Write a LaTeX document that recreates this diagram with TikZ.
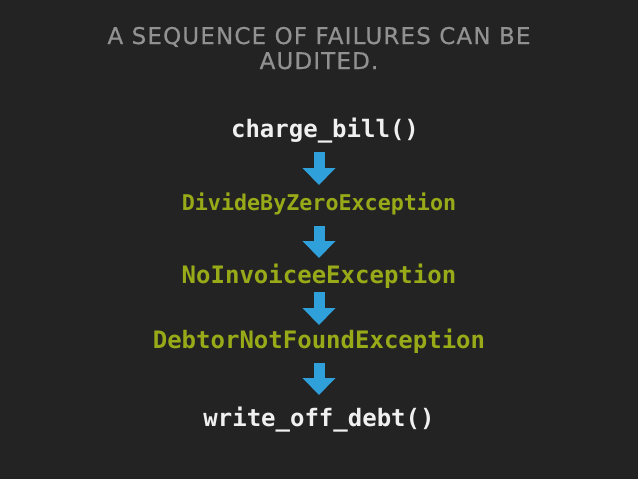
\documentclass[tikz,border=0pt]{standalone}
\usepackage{fontspec}
\newfontfamily\titlefont[LetterSpace=5,FakeBold=0.6]{DejaVu Sans}
\newfontfamily\codefont{DejaVu Sans Mono}
\usepackage{tikz}
\usetikzlibrary{arrows.meta,positioning}
\usepackage{xcolor}
\definecolor{slidebg}{RGB}{35,35,35}
\definecolor{titlegray}{RGB}{145,145,145}
\definecolor{excgreen}{RGB}{152,170,24}
\definecolor{flowblue}{RGB}{47,160,218}
\definecolor{callwhite}{RGB}{240,240,240}

\begin{document}
\begin{tikzpicture}[
      x=1pt, y=1pt,
      title/.style={font=\titlefont\fontsize{23}{25}\selectfont, text=titlegray,
                    align=center, inner sep=0pt, anchor=base},
      call/.style={font=\codefont\bfseries\fontsize{24}{28}\selectfont,
                   text=callwhite, inner sep=0pt, anchor=base},
      exc/.style={font=\codefont\bfseries\fontsize{24}{28}\selectfont,
                  text=excgreen, inner sep=0pt, anchor=base},
      flow/.style={draw=flowblue, line width=11pt,
                   -{Triangle[width=32pt, length=17pt]}}
    ]
    \fill[slidebg] (0,0) rectangle (638,-479);
    \useasboundingbox (0,0) rectangle (638,-479);

    \node[title] (heading) at (319,-69) {A SEQUENCE OF FAILURES CAN BE\\AUDITED.};

    \node[call] (bill)    at (325,-137) {charge\_bill()};
    \node[exc, font=\codefont\bfseries\fontsize{21.7}{26}\selectfont]
                (divzero) at (319,-210) {DivideByZeroException};
    \node[exc]  (noinv)   at (319,-283) {NoInvoiceeException};
    \node[exc]  (debtor)  at (319,-348) {DebtorNotFoundException};
    \node[call] (writeoff) at (319,-426) {write\_off\_debt()};

    % the chain of failures
    \draw[flow, shorten <=15pt, shorten >=25pt] (bill.base -| noinv.base) -- (divzero.base);
    \draw[flow, shorten <=16pt, shorten >=25pt] (divzero.base) -- (noinv.base);
    \draw[flow, shorten <=9pt,  shorten >=23pt] (noinv.base)  -- (debtor.base);
    \draw[flow, shorten <=15pt, shorten >=31pt] (debtor.base) -- (writeoff.base);
  \end{tikzpicture}
\end{document}
